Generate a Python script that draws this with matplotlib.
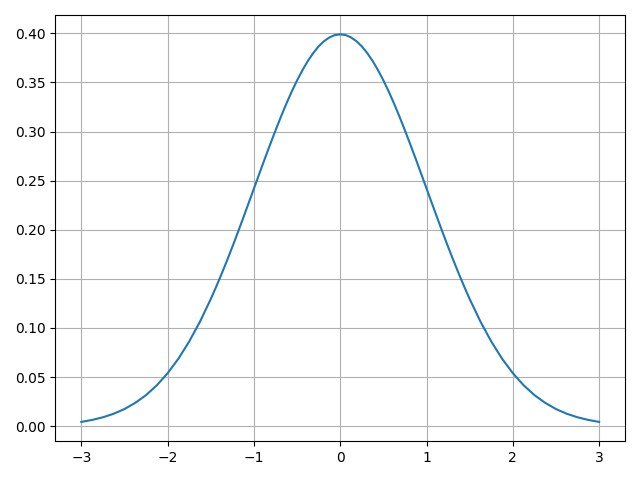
import matplotlib
matplotlib.use('Agg')
import matplotlib.pyplot as plt

# Curve values (finer spacing near the peak)
x_vals = [-3.0, -2.875, -2.75, -2.625, -2.5, -2.375, -2.25, -2.125,
          -2.0, -1.875, -1.75, -1.625, -1.5, -1.4375, -1.375, -1.3125,
          -1.25, -1.1875, -1.125, -1.0625, -1.0, -0.9375, -0.875, -0.8125,
          -0.75, -0.6875, -0.625, -0.5625, -0.5, -0.4375, -0.375, -0.3125,
          -0.25, -0.1875, -0.125, -0.0625,
          0.0,
          0.0625, 0.125, 0.1875, 0.25, 0.3125, 0.375, 0.4375, 0.5,
          0.5625, 0.625, 0.6875, 0.75, 0.8125, 0.875, 0.9375, 1.0,
          1.0625, 1.125, 1.1875, 1.25, 1.3125, 1.375, 1.4375, 1.5,
          1.625, 1.75, 1.875, 2.0, 2.125, 2.25, 2.375, 2.5,
          2.625, 2.75, 2.875, 3.0]
y_vals = [0.0044, 0.0064, 0.0091, 0.0127, 0.0175, 0.0238, 0.0317, 0.0417,
          0.0540, 0.0688, 0.0863, 0.1065, 0.1295, 0.1420, 0.1550, 0.1686,
          0.1826, 0.1971, 0.2119, 0.2269, 0.2420, 0.2571, 0.2721, 0.2868,
          0.3011, 0.3150, 0.3282, 0.3406, 0.3521, 0.3625, 0.3719, 0.3799,
          0.3867, 0.3920, 0.3958, 0.3982,
          0.3989,
          0.3982, 0.3958, 0.3920, 0.3867, 0.3799, 0.3719, 0.3625, 0.3521,
          0.3406, 0.3282, 0.3150, 0.3011, 0.2868, 0.2721, 0.2571, 0.2420,
          0.2269, 0.2119, 0.1971, 0.1826, 0.1686, 0.1550, 0.1420, 0.1295,
          0.1065, 0.0863, 0.0688, 0.0540, 0.0417, 0.0317, 0.0238, 0.0175,
          0.0127, 0.0091, 0.0064, 0.0044]

fig, ax = plt.subplots(figsize=(6.4, 4.8), dpi=100)
ax.plot(x_vals, y_vals, color='#1f77b4')
ax.grid(True)
fig.tight_layout()
fig.savefig('out.png')
